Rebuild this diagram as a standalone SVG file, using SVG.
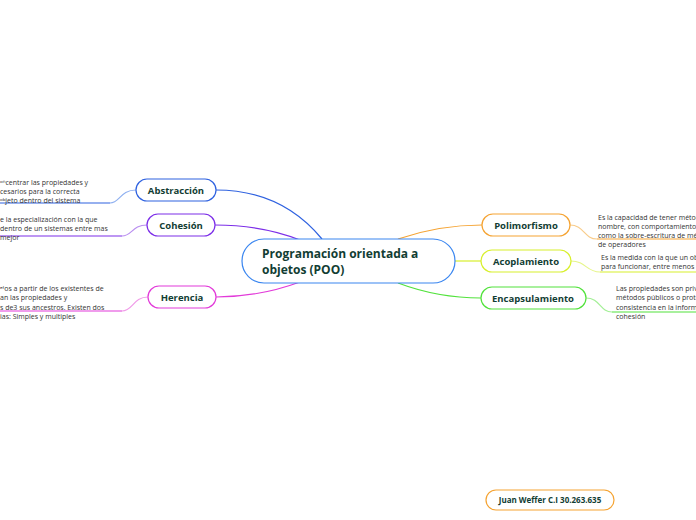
<svg xmlns="http://www.w3.org/2000/svg" width="696" height="520" viewBox="0 0 696 520">
<style>
.n{fill:#fff;stroke-width:1.2}
.t{font-family:"Open Sans",sans-serif;font-weight:bold;font-size:9.5px;fill:#123d33}
.s{font-family:"Open Sans",sans-serif;font-size:7px;fill:#333}
.c{fill:none;stroke-width:1.2}
</style>
<rect width="696" height="520" fill="#fff"/>
<g id="connectors">
<path class="c" stroke="#2f62e0" d="M322,239 C290,200 250,190 216,190"/>
<path class="c" stroke="#7c2ee8" d="M300,240 C270,228 240,225 215,225"/>
<path class="c" stroke="#e23ad9" d="M300,282 C270,293 240,297 216,297"/>
<path class="c" stroke="#f5a332" d="M398,239 C430,228 455,225 482,225"/>
<path class="c" stroke="#d8ef2c" d="M455,261 L481,261"/>
<path class="c" stroke="#52e23c" d="M398,283 C430,295 455,298 481,298"/>
<path class="c" stroke="#8fb0f0" d="M136,190 C120,190 120,203 110,203"/>
<path class="c" stroke="#2f62e0" stroke-width="1.6" d="M0,203 L110,203"/>
<path class="c" stroke="#b98ef0" d="M147,225 C132,225 132,236 122,236"/>
<path class="c" stroke="#7c2ee8" stroke-width="1.6" d="M0,236 L122,236"/>
<path class="c" stroke="#f09be8" d="M148,297 C133,297 133,311 122,311"/>
<path class="c" stroke="#e23ad9" stroke-width="1.6" d="M0,311 L122,311"/>
<path class="c" stroke="#f8cc8a" d="M570,225 C584,225 584,239 597,239"/>
<path class="c" stroke="#f5a332" stroke-width="1.6" d="M597,239 L696,239"/>
<path class="c" stroke="#e6f58a" d="M571,261 C586,261 586,272 600,272"/>
<path class="c" stroke="#d8ef2c" stroke-width="1.6" d="M600,272 L696,272"/>
<path class="c" stroke="#a3ef96" d="M586,298 C600,298 600,312 612,312"/>
<path class="c" stroke="#52e23c" stroke-width="1.6" d="M612,312 L696,312"/>
</g>
<g id="center"><rect class="n" stroke="#3a86f0" x="242" y="239" width="213" height="44" rx="22"/>
<text class="t" font-size="12" x="262" y="258" style="font-size:12px">Programación orientada a</text>
<text class="t" x="262" y="274" style="font-size:12px">objetos (POO)</text></g>
<g id="abstraccion"><rect class="n" stroke="#2f62e0" x="136" y="179" width="80" height="22" rx="11"/><text class="t" x="176" y="193.5" text-anchor="middle">Abstracción</text></g>
<g id="cohesion"><rect class="n" stroke="#7c2ee8" x="147" y="214" width="68" height="22" rx="11"/><text class="t" x="181" y="228.5" text-anchor="middle">Cohesión</text></g>
<g id="herencia"><rect class="n" stroke="#e23ad9" x="148" y="286" width="68" height="22" rx="11"/><text class="t" x="182" y="300.5" text-anchor="middle">Herencia</text></g>
<g id="polimorfismo"><rect class="n" stroke="#f5a332" x="482" y="214" width="88" height="22" rx="11"/><text class="t" x="526" y="228.5" text-anchor="middle">Polimorfismo</text></g>
<g id="acoplamiento"><rect class="n" stroke="#d8ef2c" x="481" y="250" width="90" height="22" rx="11"/><text class="t" x="526" y="264.5" text-anchor="middle">Acoplamiento</text></g>
<g id="encapsulamiento"><rect class="n" stroke="#52e23c" x="481" y="287" width="105" height="22" rx="11"/><text class="t" x="533" y="301.5" text-anchor="middle">Encapsulamiento</text></g>
<g id="autor"><rect class="n" stroke="#f5a332" x="486" y="490" width="128" height="20" rx="10"/><text class="t" x="550" y="503" text-anchor="middle" style="font-size:8px">Juan Weffer C.I 30.263.635</text></g>
<g id="notas">
<text class="s" x="0" y="185">ᵒⁿcentrar las propiedades y</text>
<text class="s" x="0" y="194">cesarios para la correcta</text>
<text class="s" x="0" y="203">ᵒᵇjeto dentro del sistema</text>
<text class="s" x="0" y="222">e la especialización con la que</text>
<text class="s" x="0" y="231">dentro de un sistemas entre mas</text>
<text class="s" x="0" y="240">mejor</text>
<text class="s" x="0" y="291">ᵉᶠos a partir de los existentes de</text>
<text class="s" x="0" y="300">an las propiedades y</text>
<text class="s" x="0" y="310">s de3 sus ancestros. Existen dos</text>
<text class="s" x="0" y="319">ias: Simples y multiples</text>
<text class="s" x="598" y="220">Es la capacidad de tener métodos</text>
<text class="s" x="598" y="229">nombre, con comportamientos</text>
<text class="s" x="598" y="238">como la sobre-escritura de métodos</text>
<text class="s" x="598" y="247">de operadores</text>
<text class="s" x="601" y="260">Es la medida con la que un objeto</text>
<text class="s" x="601" y="269">para funcionar, entre menos</text>
<text class="s" x="616" y="291">Las propiedades son privadas</text>
<text class="s" x="616" y="300">métodos públicos o protegidos</text>
<text class="s" x="616" y="310">consistencia en la información</text>
<text class="s" x="616" y="319">cohesión</text>
</g>
</svg>
